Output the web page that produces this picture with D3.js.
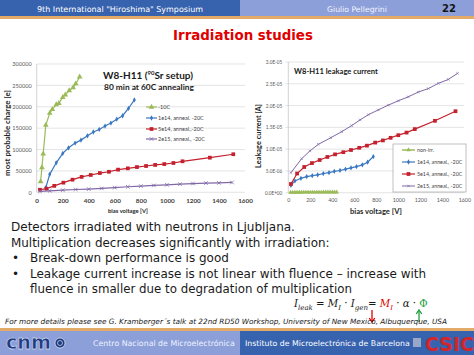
<!DOCTYPE html>
<html><head><meta charset="utf-8">
<script src="https://cdn.jsdelivr.net/npm/d3@7"></script>
<style>body{margin:0;background:#fff;} svg{display:block}</style>
</head><body>
<svg id="c" width="474" height="355"></svg>
<script>
// ---------- data ----------
const xTicks = [0,200,400,600,800,1000,1200,1400,1600];
const chargeTicks = [0,50000,100000,150000,200000,250000,300000];
const currentTicks = [0,5e-6,1e-5,1.5e-5,2e-5,2.5e-5,3e-5];
const currentTickLabels = ["0.0E+00","5.0E-06","1.0E-05","1.5E-05","2.0E-05","2.5E-05","3.0E-05"];

const chargeNames = ["-10C","1e14, anneal. -20C","5e14, anneal.,-20C","2e15, anneal., -20C"];
const currentNames = ["non-irr.","1e14, anneal., -20C","5e14, anneal., -20C","2e15, anneal., -20C"];

// left chart: most probable charge [e]
const q10C_V = [30,40,50,70,100,120,150,170,200,220,250,280,300,330];
const q10C_Q = [25000,58000,90000,157000,185000,194000,205000,208000,222000,228000,238000,245000,254000,270000];
const q1e14_V = [70,100,150,200,245,295,340,390,435,480,525,570,615,660,705,750];
const q1e14_Q = [11000,42000,69000,91000,104000,115000,122000,132000,141000,147000,155000,162000,171000,179000,196000,216000];
const q5e14_V = [25,75,135,205,275,345,415,485,555,625,700,770,840,910,980,1050,1120,1330,1510];
const q5e14_Q = [6000,8500,15000,22500,29500,36000,40500,45000,48000,53000,56000,59000,61500,64000,66000,68500,72500,81000,89000];
const q2e15_V = [25,100,200,300,400,500,600,700,800,900,1000,1100,1200,1300,1400,1500];
const q2e15_Q = [2000,3500,5000,6500,7500,9000,11000,13000,14500,16000,17500,19000,20500,21500,22000,23000];

// right chart: leakage current [A]
const iNon_V = [20,40,60,80,100,120,140,160,180,200,220,240,260,280,300,320,340,360,380,400,420,440];
const iNon_I = [0.6e-7,0.7e-7,0.7e-7,0.8e-7,0.8e-7,0.8e-7,0.9e-7,0.9e-7,0.9e-7,0.9e-7,1.0e-7,1.0e-7,1.0e-7,1.0e-7,1.0e-7,1.1e-7,1.1e-7,1.1e-7,1.1e-7,1.2e-7,1.2e-7,1.2e-7];
const i1e14_V = [24,60,115,167,218,267,318,370,418,470,520,570,620,673,721,773];
const i1e14_I = [1.7e-6,2.7e-6,3.3e-6,3.7e-6,3.9e-6,4.1e-6,4.4e-6,4.6e-6,4.9e-6,5.1e-6,5.4e-6,5.7e-6,6.0e-6,6.4e-6,7.0e-6,8.3e-6];
const i5e14_V = [24,80,145,215,285,355,425,500,570,645,715,790,860,930,1000,1075,1150,1333,1520];
const i5e14_I = [2.0e-6,4.4e-6,5.9e-6,6.8e-6,7.5e-6,8.2e-6,8.8e-6,9.3e-6,9.8e-6,10.3e-6,10.8e-6,11.5e-6,12.0e-6,12.6e-6,13.2e-6,13.8e-6,14.6e-6,16.5e-6,18.7e-6];
const i2e15_V = [24,121,197,273,385,485,576,652,727,818,909,1000,1090,1182,1273,1364,1455,1539];
const i2e15_I = [4.6e-6,7.8e-6,9.6e-6,11.1e-6,12.6e-6,14.0e-6,15.4e-6,16.7e-6,17.9e-6,19.0e-6,20.1e-6,21.1e-6,22.0e-6,23.1e-6,23.9e-6,25.1e-6,26.0e-6,27.4e-6];

// ---------- helpers ----------
const svg = d3.select("#c");
const GREEN="#9BBB59", BLUE="#3B78C0", RED="#C4202E", PURPLE="#8068A6";
const CH = "Lato, 'Open Sans', sans-serif";
const VERD = "'DejaVu Sans', Verdana, sans-serif";

function fit(sel, w){
  const n = sel.node(); const fs = parseFloat(sel.attr("font-size"));
  const m = n.getComputedTextLength();
  if (m>0) sel.attr("font-size", (fs*w/m).toFixed(2));
  return sel;
}
function txt(g, x, y, s, o){
  o = o||{};
  const t = g.append("text").attr("x",x).attr("y",y).text(s)
    .attr("font-family", o.ff||VERD).attr("font-size", o.fs||10)
    .attr("fill", o.fill||"#1a1a1a");
  if (o.fw) t.attr("font-weight", o.fw);
  if (o.fst) t.attr("font-style", o.fst);
  if (o.anchor) t.attr("text-anchor", o.anchor);
  if (o.w) fit(t, o.w);
  return t;
}
function zip(a,b){ return a.map((v,i)=>[v,b[i]]); }

// ---------- header ----------
svg.append("rect").attr("x",0).attr("y",0).attr("width",240).attr("height",16).attr("fill","#3662AE");
svg.append("rect").attr("x",240).attr("y",0).attr("width",234).attr("height",16).attr("fill","#8C9FD8");
svg.append("rect").attr("x",0).attr("y",16).attr("width",474).attr("height",3).attr("fill","#E2AA66");
txt(svg,120,11.5,'9th International "Hiroshima" Symposium',{fs:8,fill:"#fff",anchor:"middle",w:166});
txt(svg,327,11.5,'Giulio Pellegrini',{fs:8,fill:"#f2f4ff",w:60});
txt(svg,442,12,'22',{fs:9,fw:"bold",fill:"#151515",w:14});

// title
txt(svg,243,40,"Irradiation studies",{fs:15,fw:"bold",fill:"#E00000",anchor:"middle",w:140});

// ---------- left chart ----------
{
  const g = svg.append("g");
  const x = d3.scaleLinear().domain([0,1600]).range([36.7,245]);
  const y = d3.scaleLinear().domain([0,300000]).range([192.3,64]);
  g.selectAll(".gl").data(chargeTicks).join("line")
    .attr("x1",x(0)).attr("x2",x(1600)).attr("y1",d=>y(d)).attr("y2",d=>y(d))
    .attr("stroke","#d9d9d9").attr("stroke-width",0.7);
  g.append("line").attr("x1",x(0)).attr("x2",x(0)).attr("y1",y(0)).attr("y2",y(300000)).attr("stroke","#bfbfbf").attr("stroke-width",0.7);
  const ya = d3.axisLeft(y).tickValues(chargeTicks).tickSize(0).tickPadding(5).tickFormat(d3.format("d"));
  const ay = g.append("g").attr("transform",`translate(${x(0)},0)`).call(ya);
  ay.select(".domain").remove();
  ay.selectAll("text").attr("font-family",CH).attr("font-size",5.6).attr("fill","#595959");
  const xa = d3.axisBottom(x).tickValues(xTicks).tickSize(0).tickPadding(6).tickFormat(d3.format("d"));
  const ax = g.append("g").attr("transform",`translate(0,${y(0)})`).call(xa);
  ax.select(".domain").remove();
  ax.selectAll("text").attr("font-family",CH).attr("font-size",6.3).attr("fill","#404040").attr("font-weight","bold");

  const line = d3.line().x(d=>x(d[0])).y(d=>y(d[1]));
  const sers = [
    {d:zip(q10C_V,q10C_Q), c:GREEN, s:d3.symbolTriangle, sz:14, stroke:false},
    {d:zip(q1e14_V,q1e14_Q), c:BLUE, s:d3.symbolDiamond, sz:8, stroke:false},
    {d:zip(q5e14_V,q5e14_Q), c:RED, s:d3.symbolSquare, sz:14, stroke:false},
    {d:zip(q2e15_V,q2e15_Q), c:PURPLE, s:d3.symbolTimes, sz:10, stroke:true},
  ];
  sers.forEach(S=>{
    g.append("path").attr("d",line(S.d)).attr("fill","none").attr("stroke",S.c).attr("stroke-width",1.2);
    g.selectAll(null).data(S.d).join("path")
      .attr("transform",d=>`translate(${x(d[0])},${y(d[1])})`)
      .attr("d",d3.symbol().type(S.s).size(S.sz))
      .attr("fill",S.stroke?"none":S.c).attr("stroke",S.stroke?S.c:"none").attr("stroke-width",0.8);
  });
  // legend
  const ly = [107,118,129,139];
  sers.forEach((S,i)=>{
    g.append("line").attr("x1",146).attr("x2",157).attr("y1",ly[i]).attr("y2",ly[i]).attr("stroke",S.c).attr("stroke-width",1.2);
    g.append("path").attr("transform",`translate(151.5,${ly[i]})`).attr("d",d3.symbol().type(S.s).size(S.sz))
      .attr("fill",S.stroke?"none":S.c).attr("stroke",S.stroke?S.c:"none").attr("stroke-width",0.8);
    txt(g,158,ly[i]+2,chargeNames[i],{ff:CH,fs:5.5,fill:"#404040"});
  });
  // titles
  const t1 = g.append("text").attr("x",148).attr("y",79).attr("text-anchor","middle")
    .attr("font-family",CH).attr("font-weight","bold").attr("font-size",10).attr("fill","#1a1a1a");
  t1.append("tspan").text("W8-H11 (");
  t1.append("tspan").text("90").attr("font-size",6).attr("dy",-4);
  t1.append("tspan").text("Sr setup)").attr("dy",4);
  txt(g,149,90,"80 min at 60C annealing",{ff:CH,fs:10,fw:"bold",anchor:"middle",w:90});
  // axis titles
  const yl = txt(g,0,0,"most probable charge [e]",{ff:CH,fs:8,fw:"bold",anchor:"middle",fill:"#262626",w:86});
  yl.attr("transform","translate(10,133) rotate(-90)");
  txt(g,128,212.5,"bias voltage [V]",{ff:CH,fs:8,fw:"bold",anchor:"middle",fill:"#262626",w:40});
}

// ---------- right chart ----------
{
  const g = svg.append("g");
  const x = d3.scaleLinear().domain([0,1600]).range([288.3,464.3]);
  const y = d3.scaleLinear().domain([0,3e-5]).range([192.7,62]);
  g.selectAll(".gl").data(currentTicks).join("line")
    .attr("x1",x(0)-3).attr("x2",x(1600)).attr("y1",d=>y(d)).attr("y2",d=>y(d))
    .attr("stroke","#d9d9d9").attr("stroke-width",0.7);
  g.append("line").attr("x1",x(0)).attr("x2",x(0)).attr("y1",y(0)).attr("y2",y(3e-5)).attr("stroke","#bfbfbf").attr("stroke-width",0.7);
  const ya = d3.axisLeft(y).tickValues(currentTicks).tickSize(0).tickPadding(6).tickFormat((d,i)=>currentTickLabels[i]);
  const ay = g.append("g").attr("transform",`translate(${x(0)},0)`).call(ya);
  ay.select(".domain").remove();
  ay.selectAll("text").attr("font-family",CH).attr("font-size",4.7).attr("fill","#595959");
  const xa = d3.axisBottom(x).tickValues(xTicks).tickSize(0).tickPadding(6).tickFormat(d3.format("d"));
  const ax = g.append("g").attr("transform",`translate(0,${y(0)})`).call(xa);
  ax.select(".domain").remove();
  ax.selectAll("text").attr("font-family",CH).attr("font-size",5.3).attr("fill","#595959");

  const line = d3.line().x(d=>x(d[0])).y(d=>y(d[1]));
  const sers = [
    {d:zip(iNon_V,iNon_I), c:GREEN, s:d3.symbolTriangle, sz:9, stroke:false, lw:1.5},
    {d:zip(i1e14_V,i1e14_I), c:BLUE, s:d3.symbolDiamond, sz:8, stroke:false, lw:1.2},
    {d:zip(i5e14_V,i5e14_I), c:RED, s:d3.symbolSquare, sz:14, stroke:false, lw:1.2},
    {d:zip(i2e15_V,i2e15_I), c:PURPLE, s:d3.symbolTimes, sz:5, stroke:true, lw:1},
  ];
  sers.forEach(S=>{
    g.append("path").attr("d",line(S.d)).attr("fill","none").attr("stroke",S.c).attr("stroke-width",S.lw);
    g.selectAll(null).data(S.d).join("path")
      .attr("transform",d=>`translate(${x(d[0])},${y(d[1])})`)
      .attr("d",d3.symbol().type(S.s).size(S.sz))
      .attr("fill",S.stroke?"none":S.c).attr("stroke",S.stroke?S.c:"none").attr("stroke-width",0.6);
  });
  // legend
  g.append("rect").attr("x",393).attr("y",144).attr("width",73).attr("height",48)
    .attr("fill","#fff").attr("stroke","#a6a6a6").attr("stroke-width",0.7);
  const ly = [150,162,174,186];
  sers.forEach((S,i)=>{
    g.append("line").attr("x1",402).attr("x2",415).attr("y1",ly[i]).attr("y2",ly[i]).attr("stroke",S.c).attr("stroke-width",S.lw);
    g.append("path").attr("transform",`translate(408.5,${ly[i]})`).attr("d",d3.symbol().type(S.s).size(S.sz))
      .attr("fill",S.stroke?"none":S.c).attr("stroke",S.stroke?S.c:"none").attr("stroke-width",0.6);
    txt(g,417,ly[i]+2,currentNames[i],{ff:CH,fs:5.3,fill:"#404040"});
  });
  txt(g,294,74,"W8-H11 leakage current",{ff:CH,fs:9,fw:"bold",w:84});
  const yl = txt(g,0,0,"Leakage current [A]",{ff:CH,fs:8,fw:"bold",anchor:"middle",fill:"#262626",w:64});
  yl.attr("transform","translate(261,136) rotate(-90)");
  txt(g,376,214,"bias voltage [V]",{ff:CH,fs:8.5,fw:"bold",anchor:"middle",fill:"#262626",w:52});
}

// ---------- body text ----------
txt(svg,11,231,"Detectors irradiated with neutrons in Ljubljana.",{fs:12,w:284});
txt(svg,11,246.5,"Multiplication decreases significantly with irradiation:",{fs:12,w:319});
txt(svg,12,262,"•",{fs:12});
txt(svg,30,262,"Break-down performance is good",{fs:12,w:199});
txt(svg,12,277.5,"•",{fs:12});
txt(svg,30,277.5,"Leakage current increase is not linear with fluence – increase with",{fs:12,w:396});
txt(svg,30,293,"fluence in smaller due to degradation of multiplication",{fs:12,w:322});

// formula
{
  const f = svg.append("text").attr("x",294).attr("y",307)
    .attr("font-family","'DejaVu Serif', 'Liberation Serif', serif").attr("font-style","italic")
    .attr("font-size",11.5).attr("fill","#1a1a1a");
  const sub = (s,c)=>{ const t=f.append("tspan").text(s).attr("font-size",7).attr("dy",2.5); if(c) t.attr("fill",c); };
  f.append("tspan").text("I");
  sub("leak");
  f.append("tspan").text(" = M").attr("dy",-2.5);
  sub("I");
  f.append("tspan").text(" · I").attr("dy",-2.5);
  sub("gen");
  f.append("tspan").text("= ").attr("dy",-2.5);
  f.append("tspan").text("M").attr("fill","#E00000");
  sub("I","#E00000");
  f.append("tspan").text(" · α · ").attr("dy",-2.5);
  f.append("tspan").text("Φ").attr("fill","#1E9E3E").attr("font-style","normal");
  fit(f, 130);
  // arrows
  const arrow = (xx, y1, y2, c)=>{
    svg.append("line").attr("x1",xx).attr("x2",xx).attr("y1",y1).attr("y2",y2).attr("stroke",c).attr("stroke-width",1.3);
    const dir = y2>y1?1:-1;
    svg.append("path").attr("d",`M${xx-2.8},${y2-dir*4} L${xx},${y2} L${xx+2.8},${y2-dir*4}`)
      .attr("fill","none").attr("stroke",c).attr("stroke-width",1.3);
  };
  arrow(372,310,322,"#E00000");
  arrow(419,322,310,"#1E9E3E");
}

// footnote
txt(svg,5,324,"For more details please see G. Kramberger´s talk at 22nd RD50 Workshop, University of New Mexico, Albuquerque, USA",{fs:7.5,fst:"italic",w:442});

// ---------- footer ----------
svg.append("rect").attr("x",0).attr("y",328).attr("width",474).attr("height",3).attr("fill","#E2AA66");
svg.append("rect").attr("x",0).attr("y",331).attr("width",240).attr("height",24).attr("fill","#8C9FD8");
svg.append("rect").attr("x",240).attr("y",331).attr("width",234).attr("height",24).attr("fill","#3662AE");
// cnm logo
{
  const lg = svg.append("g");
  txt(lg,6,349,"cnm",{fs:16,fw:"bold",fill:"#1E3C84",w:45}).attr("stroke","#fff").attr("stroke-width",0.4);
  lg.append("circle").attr("cx",60).attr("cy",343).attr("r",5).attr("fill","#1E3C84").attr("stroke","#fff").attr("stroke-width",0.6);
  lg.append("circle").attr("cx",60).attr("cy",343).attr("r",2.5).attr("fill","none").attr("stroke","#fff").attr("stroke-width",0.6);
}
txt(svg,93,346,"Centro Nacional de Microelectrónica",{fs:8,fill:"#eef1ff",w:142});
txt(svg,245,346,"Instituto de Microelectrónica de Barcelona",{fs:8,fill:"#ffffff",w:165});
svg.append("rect").attr("x",413).attr("y",338).attr("width",8).attr("height",9).attr("fill","#9aa8c8");
txt(svg,425,351,"CSIC",{fs:16,fw:"bold",fill:"#D3262C",w:49});
</script>
</body></html>
